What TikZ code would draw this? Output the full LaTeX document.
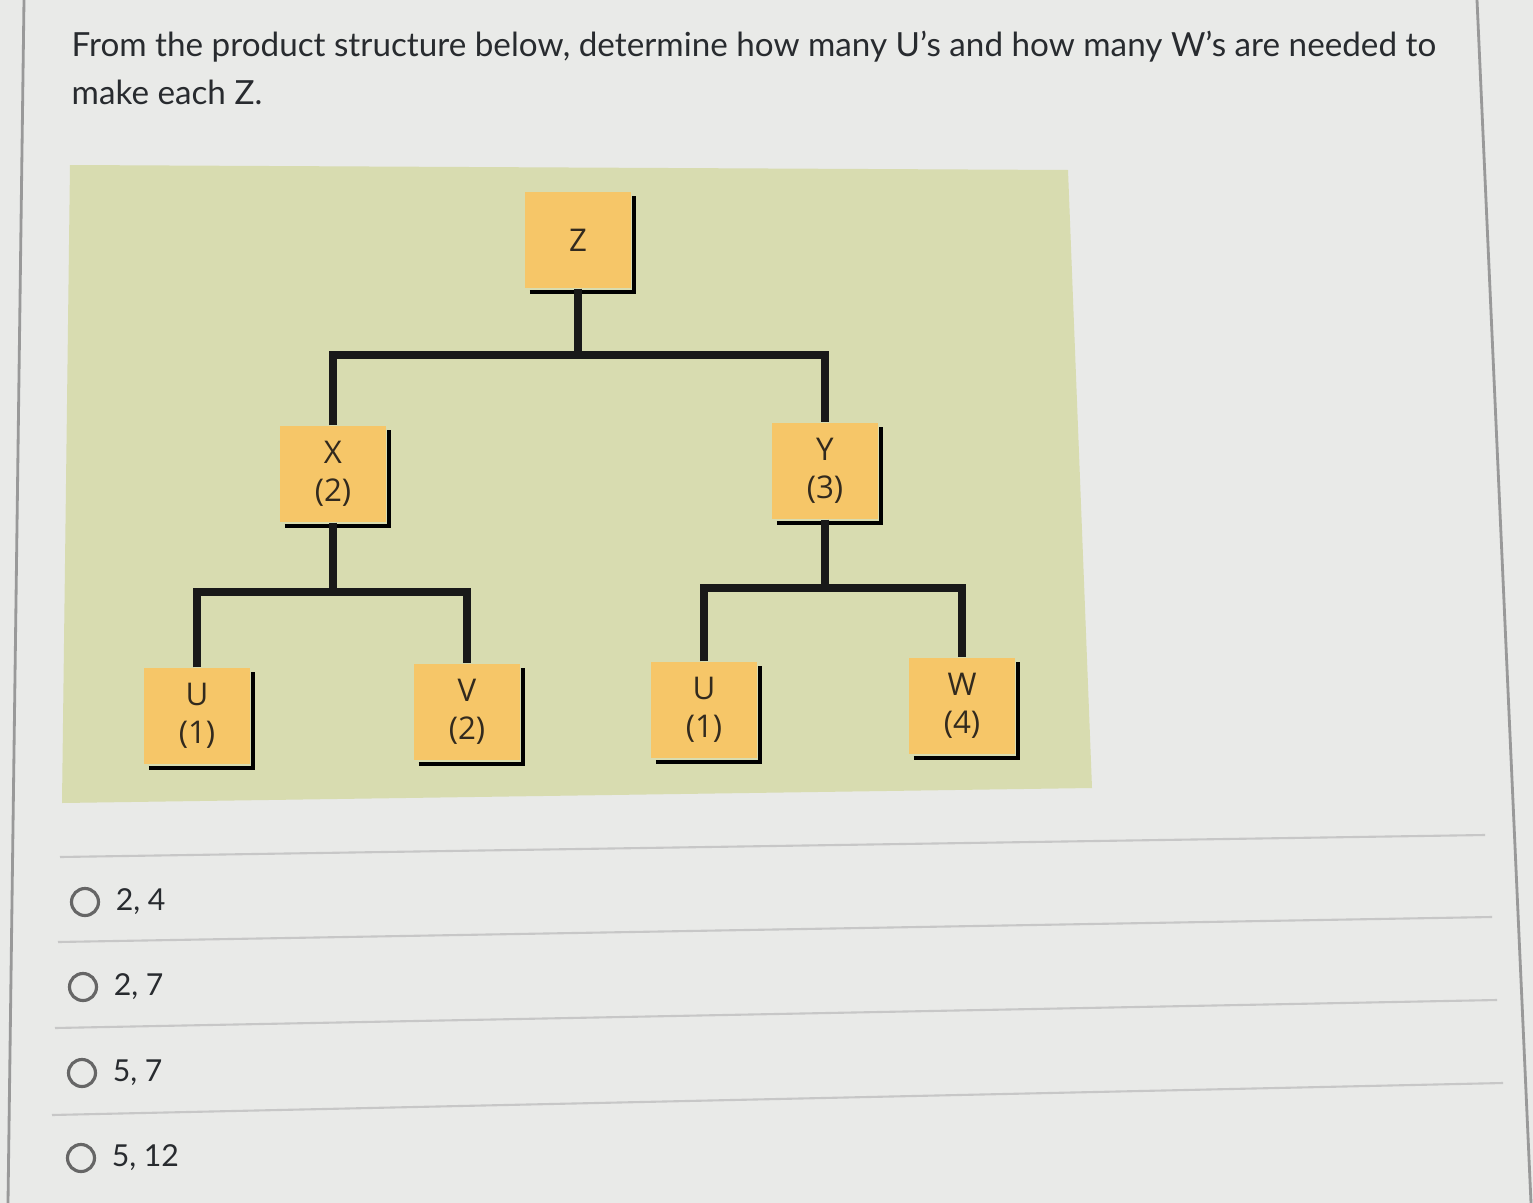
\documentclass[tikz,border=0pt]{standalone}
\usepackage{fontspec}
\setmainfont{Lato}
\newfontfamily\boxfont{Open Sans}
\usetikzlibrary{positioning}

\definecolor{pagebg}{RGB}{233,234,232}
\definecolor{panel}{RGB}{216,220,176}
\definecolor{partfill}{RGB}{246,198,104}
\definecolor{textcol}{RGB}{40,43,47}
\definecolor{labelcol}{RGB}{50,42,30}

\begin{document}
\begin{tikzpicture}[x=0.01cm, y=-0.01cm,
    part/.style = {fill=partfill, minimum width=1.05cm, minimum height=0.96cm, inner sep=0pt,
                   align=center, text=labelcol, font=\boxfont\fontsize{8.9}{10.8}\selectfont},
    rim/.style = {line width=1.2pt, black},
    link/.style = {line width=2pt, black!90},
    radio/.style = {circle, draw=black!60, line width=0.9pt, minimum size=0.27cm, inner sep=0pt},
    choice/.style = {text=textcol, inner sep=0pt, font=\fontsize{8.6}{10}\selectfont},
    rule/.style = {black!22, line width=0.6pt}]
\useasboundingbox (0,0) rectangle (1533,1203);
\fill[pagebg] (0,0) rectangle (1533,1203);
\draw[black!40, line width=0.8pt] (24,0) -- (8,1203);
\draw[black!40, line width=0.8pt] (1477,0) -- (1531,1203);

% question
\node[anchor=base west, inner sep=0pt, text=textcol, font=\fontsize{9.45}{12}\selectfont] (q1) at (71,57)
    {From the product structure below, determine how many U's and how many W's are needed to};
\node[anchor=base west, inner sep=0pt, text=textcol, font=\fontsize{9.45}{12}\selectfont] (q2) at (71,104)
    {make each Z.};

% product structure
\fill[panel] (70,165) -- (1068,170) -- (1092,788) -- (62,803) -- cycle;

\node[part] (Z) at (578,240) {Z};
\node[part] (X) at (333,474) {X\\(2)};
\node[part] (Y) at (825,471) {Y\\(3)};
\node[part] (U1) at (197,716) {U\\(1)};
\node[part] (V) at (467,712) {V\\(2)};
\node[part] (U2) at (704,710) {U\\(1)};
\node[part] (W) at (962,706) {W\\(4)};

\foreach \n in {Z,X,Y,U1,V,U2,W}
    \draw[rim] ([shift={(5,3)}]\n.south west) -- ([shift={(3,3)}]\n.south east) -- ([shift={(3,5)}]\n.north east);

\coordinate (zbar) at (578,355);
\coordinate (xbar) at (333,592);
\coordinate (ybar) at (825,588);
\draw[link] (Z.south) -- (zbar);
\draw[link] (X.north) |- (zbar) -| (Y.north);
\draw[link] (X.south) -- (xbar);
\draw[link] (U1.north) |- (xbar) -| (V.north);
\draw[link] (Y.south) -- (ybar);
\draw[link] (U2.north) |- (ybar) -| (W.north);

% answers
\draw[rule] (60,857) -- (1485,835);
\draw[rule] (58,942) -- (1492,917);
\draw[rule] (55,1028) -- (1497,1000);
\draw[rule] (52,1115) -- (1503,1083);
\foreach \y/\x/\t [count=\i] in {902/85/{2, 4}, 987/83/{2, 7}, 1073/82/{5, 7}, 1158/81/{5, 12}} {
    \node[radio] (r\i) at (\x,\y) {};
    \node[choice, right=0.15cm of r\i] (c\i) {\t};
}
\end{tikzpicture}
\end{document}
